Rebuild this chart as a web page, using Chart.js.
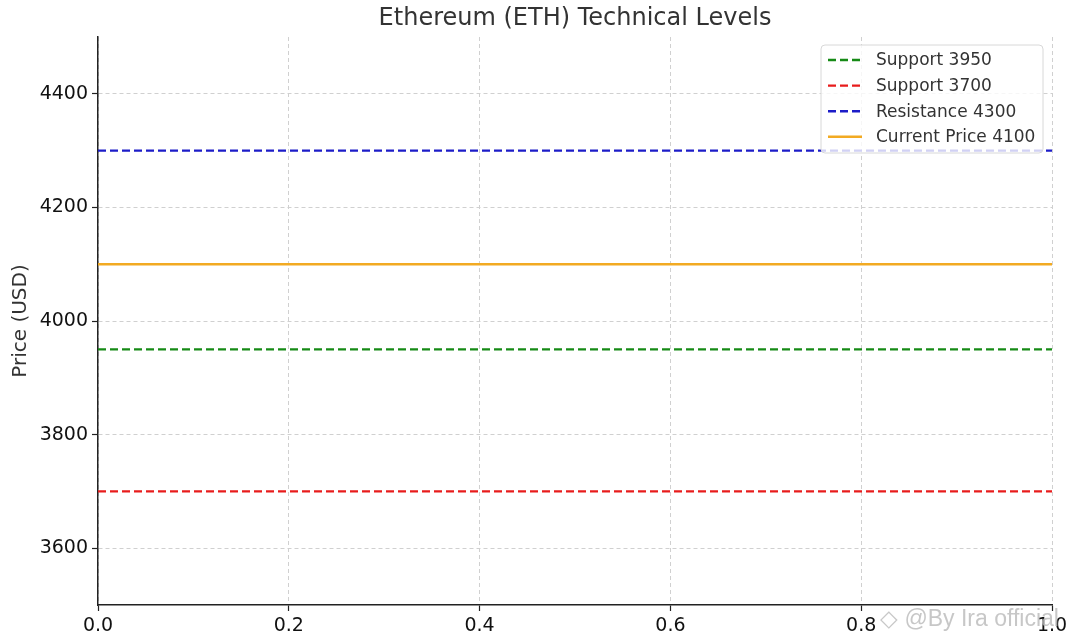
<!DOCTYPE html>
<html>
<head>
<meta charset="utf-8">
<script src="https://cdn.jsdelivr.net/npm/chart.js@4.4.1/dist/chart.umd.min.js"></script>
<style>
  html, body { margin: 0; padding: 0; background: #fff; }
  #wrap { width: 1080px; height: 643px; }
</style>
</head>
<body>
<div id="wrap"><canvas id="levels" width="1080" height="643"></canvas></div>
<script>
// levels
const levelNames = ["Support 3950", "Support 3700", "Resistance 4300", "Current Price 4100"];
const levelValues = [3950, 3700, 4300, 4100];
const levelColors = ["#168a16", "#e81c1c", "#1c1cc8", "#f2aa22"];
const levelDashed = [true, true, true, false];
const xRange = [0, 1];
const xTicks = [0, 0.2, 0.4, 0.6, 0.8, 1.0];
const yTicks = [3600, 3800, 4000, 4200, 4400];

const FONT = "'DejaVu Sans', sans-serif";

const datasets = levelNames.map((name, i) => ({
  label: name,
  data: xRange.map(x => ({ x: x, y: levelValues[i] })),
  borderColor: levelColors[i],
  borderWidth: 2.4,
  borderDash: levelDashed[i] ? [8, 4] : [],
  pointRadius: 0,
  fill: false
}));

// title, watermark and a matplotlib-style legend box
const extras = {
  id: "extras",
  afterDraw(chart) {
    const ctx = chart.ctx;
    const area = chart.chartArea;
    ctx.save();
    ctx.fillStyle = "#333";
    ctx.font = "24px " + FONT;
    ctx.textAlign = "center";
    ctx.textBaseline = "middle";
    ctx.fillText("Ethereum (ETH) Technical Levels", (area.left + area.right) / 2, 19);

    // legend
    const bx = 821, by = 45, bw = 222, bh = 108;
    ctx.beginPath();
    ctx.roundRect(bx, by, bw, bh, 4);
    ctx.fillStyle = "rgba(255,255,255,0.8)";
    ctx.fill();
    ctx.strokeStyle = "#d8d8d8";
    ctx.lineWidth = 1;
    ctx.stroke();
    ctx.font = "17px " + FONT;
    ctx.textAlign = "left";
    levelNames.forEach((name, i) => {
      const y = 60 + i * 25.6;
      ctx.beginPath();
      ctx.setLineDash(levelDashed[i] ? [8, 4] : []);
      ctx.strokeStyle = levelColors[i];
      ctx.lineWidth = 2.4;
      ctx.moveTo(828, y);
      ctx.lineTo(862, y);
      ctx.stroke();
      ctx.setLineDash([]);
      ctx.fillStyle = "#333";
      ctx.fillText(name, 876, y + 1);
    });

    // watermark
    ctx.font = "23px 'Liberation Sans', sans-serif";
    ctx.fillStyle = "rgba(185,185,185,0.8)";
    ctx.textAlign = "left";
    ctx.fillText("\u25C7 @By Ira official", 880, 620);
    ctx.restore();
  }
};

const gridOpts = {
  color: "#d0d0d0",
  lineWidth: 1,
  tickLength: 6,
  tickColor: "#222",
  tickWidth: 1.2,
  tickBorderDash: []
};

new Chart(document.getElementById("levels"), {
  type: "line",
  data: { datasets: datasets },
  options: {
    responsive: false,
    animation: false,
    layout: { padding: { top: 37, right: 28, left: 0, bottom: 0 } },
    plugins: {
      legend: { display: false },
      title: { display: false },
      tooltip: { enabled: false }
    },
    scales: {
      x: {
        type: "linear",
        min: xRange[0],
        max: xRange[1],
        afterBuildTicks: s => { s.ticks = xTicks.map(v => ({ value: v })); },
        afterFit: s => { s.height = 38; },
        border: { display: true, color: "#222", width: 1.5, dash: [4, 3] },
        grid: gridOpts,
        ticks: {
          color: "#111",
          padding: 4,
          font: { family: FONT, size: 19 },
          callback: v => Number(v).toFixed(1)
        }
      },
      y: {
        min: 3500,
        max: 4500,
        afterBuildTicks: s => { s.ticks = yTicks.map(v => ({ value: v })); },
        afterFit: s => { s.width = 98; },
        border: { display: true, color: "#222", width: 1.5, dash: [4, 3] },
        grid: gridOpts,
        title: {
          display: true,
          text: "Price (USD)",
          color: "#333",
          font: { family: FONT, size: 20 },
          padding: { top: 9, bottom: 4 }
        },
        ticks: {
          color: "#111",
          padding: 4,
          font: { family: FONT, size: 19 },
          callback: v => String(v)
        }
      }
    }
  },
  plugins: [extras]
});
</script>
</body>
</html>
